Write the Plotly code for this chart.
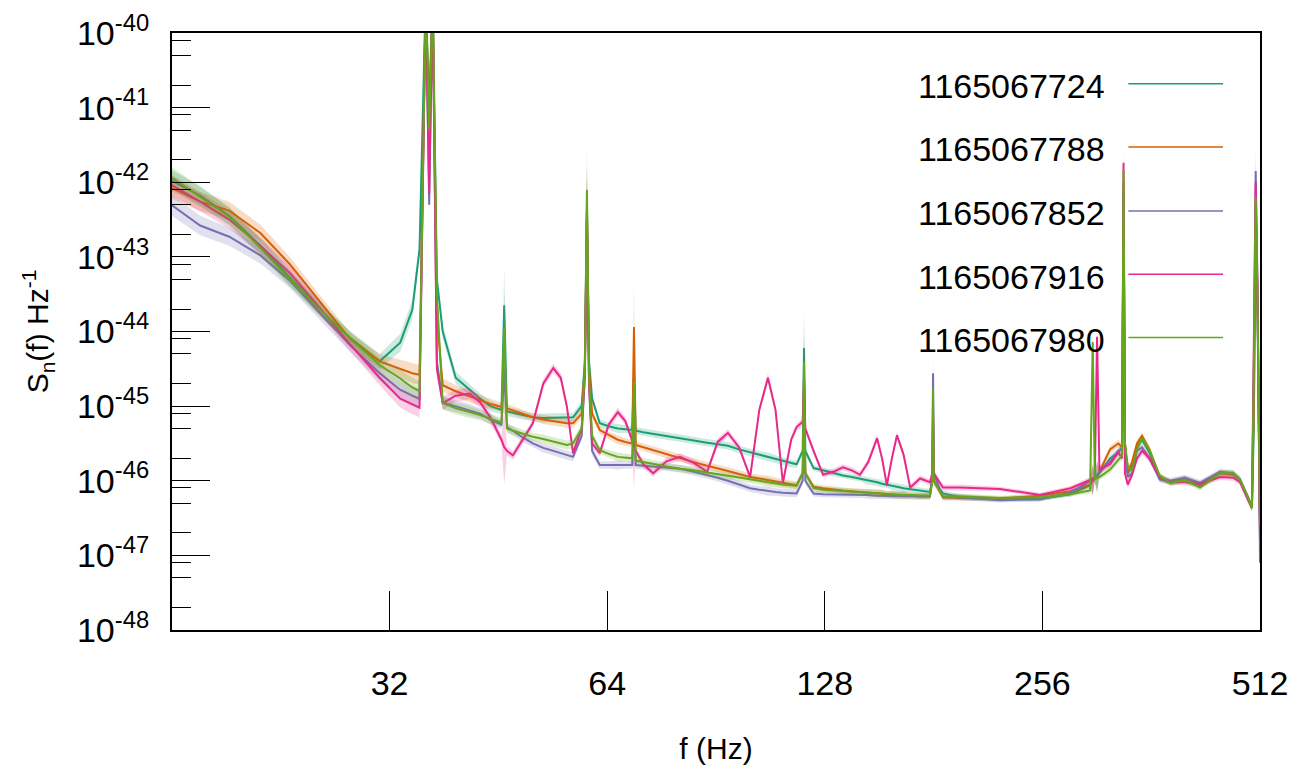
import numpy as np
import plotly.graph_objects as go

# Frequency grid (Hz) shared by the five PSD estimates
freqs = [16.0, 17.5, 19.2, 21.2, 23.3, 25.6, 28.2, 31.0, 33.1, 34.4,
         35.2, 35.9, 36.3, 36.7, 37.2, 37.9, 39.5, 41.3, 42.7, 44.1,
         45.7, 46.1, 46.5, 47.4, 48.9, 50.5, 52.2, 53.9, 55.2, 56.3,
         57.4, 59.0, 59.6, 60.0, 60.4, 61.0, 62.5, 64.3, 66.2, 67.8,
         69.3, 69.7, 70.1, 71.8, 74.1, 77.3, 80.7, 84.3, 88.0, 91.0,
         94.0, 97.4, 100.9, 103.9, 106.8, 109.4, 112.0, 115.0, 117.0, 119.3,
         119.8, 120.3, 123.5, 127.3, 131.5, 135.6, 139.5, 143.2, 147.0, 151.2,
         153.6, 156.0, 158.5, 161.1, 164.5, 168.0, 173.4, 178.9, 180.3, 180.7,
         181.1, 186.5, 197.0, 223.6, 254.0, 280.0, 298.0, 300.5, 302.5, 304.7,
         307.0, 317.6, 326.0, 330.0, 331.5, 333.0, 336.0, 340.6, 346.0, 351.6,
         360.0, 372.0, 385.0, 403.0, 423.0, 450.7, 470.0, 480.5, 494.0, 499.0,
         502.0, 505.0, 508.0, 512.0]

# log10 of the median PSD for each segment
psd_724 = [-41.98, -42.18, -42.45, -42.85, -43.28, -43.70, -44.08, -44.40, -44.15, -43.71,
           -42.90, -39.50, -41.00, -39.50, -43.30, -44.00, -44.62, -44.78, -44.90, -45.00,
           -45.05, -43.65, -45.07, -45.09, -45.12, -45.15, -45.16, -45.16, -45.16, -45.16,
           -45.15, -45.00, -44.40, -42.30, -44.40, -44.90, -45.23, -45.27, -45.30, -45.31,
           -45.32, -44.60, -45.33, -45.35, -45.37, -45.40, -45.43, -45.46, -45.49, -45.51,
           -45.53, -45.58, -45.62, -45.65, -45.68, -45.71, -45.74, -45.77, -45.78, -45.60,
           -44.22, -45.60, -45.83, -45.86, -45.90, -45.93, -45.95, -45.97, -46.00, -46.02,
           -46.04, -46.05, -46.07, -46.08, -46.10, -46.11, -46.13, -46.15, -46.00, -45.20,
           -46.00, -46.17, -46.22, -46.25, -46.24, -46.18, -46.06, -46.00, -45.98, -45.95,
           -45.90, -45.70, -45.62, -45.55, -42.20, -45.50, -45.90, -45.80, -45.55, -45.45,
           -45.62, -45.98, -46.02, -45.98, -46.06, -45.90, -45.90, -45.99, -46.25, -46.36,
           -45.30, -42.60, -43.80, -46.70]

psd_788 = [-42.08, -42.26, -42.38, -42.68, -43.10, -43.60, -44.10, -44.40, -44.50, -44.56,
           -44.58, -39.50, -41.20, -39.50, -43.80, -44.72, -44.80, -44.87, -44.92, -44.97,
           -45.01, -44.60, -45.03, -45.06, -45.10, -45.15, -45.18, -45.20, -45.22, -45.23,
           -45.23, -45.10, -44.50, -42.40, -44.50, -45.10, -45.32, -45.39, -45.45, -45.48,
           -45.50, -43.94, -45.52, -45.55, -45.59, -45.65, -45.70, -45.75, -45.80, -45.84,
           -45.87, -45.91, -45.95, -45.97, -45.99, -46.01, -46.03, -46.05, -46.06, -45.90,
           -44.60, -45.90, -46.08, -46.10, -46.12, -46.13, -46.14, -46.15, -46.16, -46.17,
           -46.17, -46.18, -46.18, -46.19, -46.19, -46.20, -46.21, -46.21, -46.00, -45.10,
           -46.00, -46.22, -46.23, -46.24, -46.20, -46.14, -46.05, -46.00, -45.97, -45.93,
           -45.88, -45.58, -45.50, -45.55, -42.00, -45.50, -45.90, -45.75, -45.50, -45.40,
           -45.58, -45.95, -46.02, -45.97, -46.04, -45.90, -45.92, -45.99, -46.25, -46.36,
           -45.00, -42.30, -43.60, -46.60]

psd_852 = [-42.31, -42.58, -42.73, -42.98, -43.32, -43.75, -44.18, -44.56, -44.78, -44.86,
           -44.90, -39.50, -42.30, -39.50, -44.40, -44.95, -45.00, -45.05, -45.10, -45.18,
           -45.25, -44.50, -45.28, -45.33, -45.42, -45.50, -45.56, -45.60, -45.63, -45.66,
           -45.68, -45.40, -44.60, -42.50, -44.70, -45.60, -45.79, -45.79, -45.79, -45.79,
           -45.79, -45.20, -45.79, -45.80, -45.81, -45.82, -45.84, -45.88, -45.92, -45.96,
           -46.00, -46.05, -46.10, -46.12, -46.14, -46.15, -46.16, -46.17, -46.17, -46.00,
           -44.60, -46.00, -46.17, -46.18, -46.18, -46.19, -46.19, -46.19, -46.19, -46.20,
           -46.20, -46.20, -46.20, -46.20, -46.20, -46.21, -46.21, -46.21, -45.90, -44.56,
           -45.90, -46.22, -46.22, -46.26, -46.25, -46.16, -46.00, -45.98, -45.96, -45.92,
           -45.88, -45.75, -45.60, -45.58, -42.10, -45.60, -45.95, -45.90, -45.60, -45.55,
           -45.70, -45.98, -46.00, -45.96, -46.03, -45.88, -45.90, -45.98, -46.25, -46.36,
           -44.50, -41.85, -43.40, -47.10]

psd_916 = [-42.04, -42.26, -42.50, -42.85, -43.22, -43.68, -44.17, -44.62, -44.90, -44.98,
           -45.02, -39.50, -42.15, -39.50, -44.50, -44.96, -44.86, -44.83, -44.95, -45.15,
           -45.45, -45.55, -45.60, -45.66, -45.45, -45.23, -44.70, -44.49, -44.62, -45.01,
           -45.63, -45.30, -44.60, -42.40, -44.70, -45.50, -45.63, -45.25, -45.08, -45.20,
           -45.46, -45.50, -45.60, -45.78, -45.90, -45.74, -45.68, -45.76, -45.88, -45.48,
           -45.36, -45.55, -45.95, -45.05, -44.62, -45.05, -46.03, -45.45, -45.28, -45.21,
           -44.70, -45.30, -45.60, -45.92, -45.88, -45.82, -45.86, -45.92, -45.75, -45.43,
           -45.70, -46.06, -45.70, -45.39, -45.65, -46.09, -45.97, -46.02, -45.90, -45.00,
           -45.90, -46.09, -46.09, -46.11, -46.19, -46.10, -45.99, -45.97, -45.96, -44.07,
           -45.85, -45.78, -45.62, -45.70, -41.74, -45.90, -46.05, -45.92, -45.70, -45.60,
           -45.70, -45.95, -46.02, -46.02, -46.05, -45.95, -45.96, -46.02, -46.28, -46.35,
           -44.20, -42.00, -43.50, -46.80]

psd_980 = [-41.94, -42.19, -42.46, -42.88, -43.30, -43.70, -44.09, -44.45, -44.63, -44.75,
           -44.80, -39.50, -41.30, -39.50, -43.50, -44.96, -45.03, -45.08, -45.12, -45.17,
           -45.22, -43.95, -45.30, -45.33, -45.37, -45.41, -45.44, -45.47, -45.50, -45.52,
           -45.50, -45.30, -44.50, -42.10, -44.60, -45.40, -45.59, -45.64, -45.68, -45.69,
           -45.70, -44.68, -45.73, -45.75, -45.78, -45.81, -45.84, -45.86, -45.89, -45.91,
           -45.93, -45.96, -45.98, -46.00, -46.02, -46.04, -46.05, -46.06, -46.07, -45.90,
           -44.41, -45.90, -46.10, -46.12, -46.13, -46.14, -46.14, -46.15, -46.16, -46.17,
           -46.17, -46.18, -46.18, -46.19, -46.19, -46.19, -46.20, -46.20, -46.00, -44.76,
           -46.00, -46.21, -46.21, -46.23, -46.22, -46.18, -46.13, -44.14, -45.98, -45.97,
           -45.95, -45.85, -45.72, -45.66, -41.84, -45.50, -45.80, -45.86, -45.58, -45.43,
           -45.59, -45.93, -46.03, -45.99, -46.09, -45.90, -45.90, -45.99, -46.25, -46.37,
           -44.60, -42.20, -43.60, -46.60]

# half width of the shaded uncertainty band, in decades
band_dex = [0.14, 0.13, 0.12, 0.11, 0.10, 0.09, 0.09, 0.10, 0.12, 0.13,
            0.13, 0.10, 0.15, 0.10, 0.10, 0.09, 0.08, 0.08, 0.07, 0.07,
            0.06, 0.50, 0.06, 0.06, 0.06, 0.05, 0.06, 0.06, 0.06, 0.06,
            0.06, 0.06, 0.10, 0.60, 0.10, 0.06, 0.05, 0.05, 0.06, 0.05,
            0.05, 0.60, 0.05, 0.05, 0.05, 0.05, 0.05, 0.05, 0.05, 0.05,
            0.05, 0.05, 0.05, 0.05, 0.06, 0.05, 0.05, 0.05, 0.05, 0.05,
            0.60, 0.05, 0.04, 0.04, 0.04, 0.04, 0.04, 0.04, 0.05, 0.05,
            0.05, 0.04, 0.05, 0.05, 0.05, 0.04, 0.04, 0.04, 0.05, 0.30,
            0.05, 0.04, 0.04, 0.03, 0.03, 0.03, 0.04, 0.20, 0.04, 0.20,
            0.04, 0.05, 0.05, 0.05, 0.30, 0.05, 0.06, 0.05, 0.05, 0.05,
            0.05, 0.04, 0.04, 0.04, 0.04, 0.04, 0.04, 0.04, 0.05, 0.05,
            0.10, 0.30, 0.10, 0.10]

gps_times = ['1165067724', '1165067788', '1165067852', '1165067916', '1165067980']
series = [psd_724, psd_788, psd_852, psd_916, psd_980]
colors = ['#1b9e77', '#d95f02', '#7570b3', '#e7298a', '#66a61e']
band_colors = ['rgba(27,158,119,0.22)', 'rgba(217,95,2,0.22)', 'rgba(117,112,179,0.22)',
               'rgba(231,41,138,0.22)', 'rgba(102,166,30,0.22)']

x_ticks = [32, 64, 128, 256, 512]
y_exps = list(range(-48, -39))

for s in series:
    assert len(s) == len(freqs)
assert len(band_dex) == len(freqs)

fig = go.Figure()

for name, s, col, bcol in zip(gps_times, series, colors, band_colors):
    upper = [10 ** (v + b) for v, b in zip(s, band_dex)]
    lower = [10 ** (v - b) for v, b in zip(s, band_dex)]
    fig.add_trace(go.Scatter(x=freqs + freqs[::-1], y=upper + lower[::-1],
                             fill='toself', fillcolor=bcol, line=dict(width=0),
                             hoverinfo='skip', showlegend=False))
    fig.add_trace(go.Scatter(x=freqs, y=[10 ** v for v in s], mode='lines', name=name,
                             line=dict(color=col, width=2), showlegend=False))

# gnuplot style key: label on the left, line sample on the right
key_y = [0.911, 0.805, 0.698, 0.592, 0.486]
for name, col, ky in zip(gps_times, colors, key_y):
    fig.add_annotation(x=0.859, y=ky, xref='paper', yref='paper', text=name,
                       showarrow=False, xanchor='right', yanchor='middle',
                       font=dict(size=34))
    fig.add_shape(type='line', xref='paper', yref='paper', x0=0.879, x1=0.966,
                  y0=ky + 0.004, y1=ky + 0.004, line=dict(color=col, width=1.5))

# the page body adds an 8 px margin, so the figure is 16 px smaller than the window
fig.update_layout(
    width=1288, height=764,
    margin=dict(l=164, r=36, t=25, b=142),
    plot_bgcolor='white', paper_bgcolor='white',
    font=dict(family='Liberation Sans, Arial, sans-serif', size=34, color='black'),
    showlegend=False,
)

fig.update_xaxes(
    type='log', range=[np.log10(16), np.log10(512)], automargin=False,
    tickmode='array', tickvals=x_ticks, ticktext=[str(t) for t in x_ticks],
    ticks='inside', ticklen=39, tickwidth=1.3, tickcolor='black',
    ticklabelstandoff=22,
    showline=True, linecolor='black', linewidth=2, mirror=True,
    showgrid=False, zeroline=False,
    title=dict(text='f (Hz)', standoff=37, font=dict(size=30)),
)

fig.update_yaxes(
    type='log', range=[-48, -40], automargin=False,
    tickmode='array', tickvals=[10.0 ** e for e in y_exps],
    ticktext=['10<sup>%d</sup>' % e for e in y_exps],
    ticks='inside', ticklen=38, tickwidth=1.3, tickcolor='black',
    ticklabelstandoff=14,
    minor=dict(tickvals=[m * 10.0 ** e for e in range(-48, -40) for m in (2, 5, 8)],
               ticks='inside', ticklen=19, tickwidth=1.3, tickcolor='black', showgrid=False),
    showline=True, linecolor='black', linewidth=2, mirror=True,
    showgrid=False, zeroline=False,
    title=dict(text='S<sub>n</sub>(f) Hz<sup>-1</sup>', standoff=19, font=dict(size=30)),
)

fig.write_html("out.html")
